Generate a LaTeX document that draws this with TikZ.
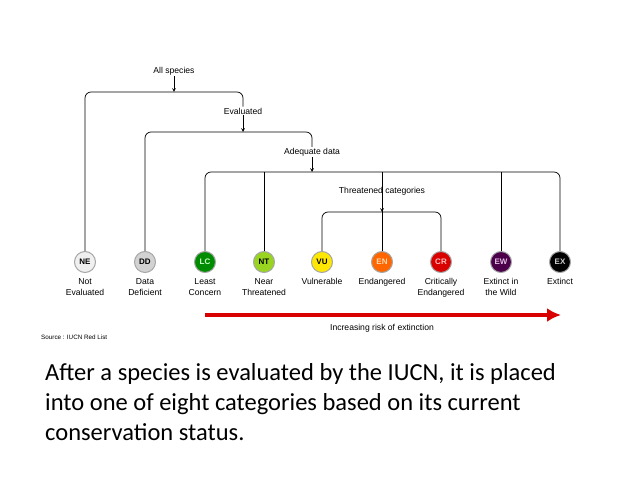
\documentclass[tikz,border=0pt]{standalone}
\usepackage{fontspec}
\usetikzlibrary{arrows.meta}
\setmainfont{Liberation Sans}
\newfontfamily\calib{Carlito}
\begin{document}
\begin{tikzpicture}[x=1pt,y=-1pt,
 lbl/.style={font=\fontsize{8.6}{11.5}\selectfont,align=center,inner sep=1pt},
 br/.style={draw,line width=0.7pt,rounded corners=6pt},
 ar/.style={->,>=stealth,line width=0.7pt},
 cat/.style={circle,draw=gray!70,line width=1pt,minimum size=21pt,inner sep=0pt,font=\bfseries\fontsize{8}{9}\selectfont}]
\useasboundingbox (0,0) rectangle (638,478);
\foreach \n/\x/\c/\t/\a/\b in {NE/85/gray!12/black/Not/Evaluated, DD/145/gray!35/black/Data/Deficient, LC/205/green!55!black/green!20/Least/Concern, NT/264/yellow!60!green/black/Near/Threatened, VU/322/yellow!90!orange/black/Vulnerable/{}, EN/382/orange!80!red/orange!30/Endangered/{}, CR/441/red!85!black/red!25/Critically/Endangered, EW/501/violet!60!black/violet!25/Extinct in/the Wild, EX/560/black/gray!40/Extinct/{}}{
 \node[cat,fill=\c,text=\t] (\n) at (\x,262) {\n};
 \node[lbl,anchor=north] (l\n) at (\x,277) {\a\\\b};
}
\node[lbl] (all) at (174,71) {All species};
\node[lbl] (ev) at (243,111) {Evaluated};
\node[lbl] (ad) at (312,152) {Adequate data};
\node[lbl] (th) at (382,191) {Threatened categories};
\coordinate (b1) at (174,92); \coordinate (b2) at (243,132);
\coordinate (b3) at (312,172); \coordinate (b4) at (382,212);
\draw[ar] (all) -- (b1); \draw[ar] (ev) -- (b2); \draw[ar] (ad) -- (b3);
\draw[br] (NE.north) |- (243,92) -- (ev.north);
\draw[br] (DD.north) |- (312,132) -- (ad.north);
\draw[br] (LC.north) |- (EX.north |- b3) -- (EX.north);
\draw[line width=0.7pt] (NT.north) -- (NT.north |- b3);
\draw[line width=0.7pt] (EW.north) -- (EW.north |- b3);
\draw[line width=0.7pt] (EN.north) -- (EN.north |- b3);
\draw[br] (VU.north) |- (CR.north |- b4) -- (CR.north);
\draw[ar] (382,199) -- (b4);
\coordinate (r1) at (205,315); \coordinate (r2) at (561,315);
\draw[red!85!black,line width=3.5pt,-{Latex[length=14pt,width=14pt]}] (r1) -- (r2);
\node[lbl] (inc) at (382,328) {Increasing risk of extinction};
\node[font=\fontsize{6.3}{7}\selectfont,anchor=west,inner sep=0pt] (src) at (41,337) {Source : IUCN Red List};
\node[font=\calib\fontsize{24.5}{30}\selectfont,anchor=north west,align=left,inner sep=0pt] (cap) at (45,363) {After a species is evaluated by the IUCN, it is placed\\into one of eight categories based on its current\\conservation status.};
\end{tikzpicture}
\end{document}
